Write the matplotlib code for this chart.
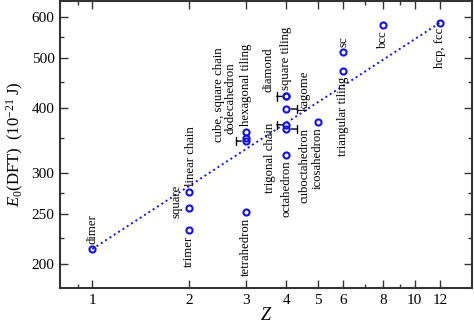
import matplotlib
matplotlib.use("Agg")
import matplotlib.pyplot as plt
import matplotlib.ticker as ticker

plt.rcParams["font.family"] = "Liberation Serif"
plt.rcParams["mathtext.fontset"] = "custom"
plt.rcParams["mathtext.rm"] = "Liberation Serif"
plt.rcParams["mathtext.it"] = "Liberation Serif:italic"

# Coordination number and DFT energy of every structure
names = [
    "dimer", "trimer", "square", "linear chain", "tetrahedron",
    "cube, square chain", "dodecahedron", "hexagonal tiling",
    "octahedron", "trigonal chain", "cuboctahedron", "kagome",
    "diamond", "square tiling", "icosahedron",
    "triangular tiling", "sc", "bcc", "hcp, fcc",
]
z = [1, 2, 2, 2, 3,
     3, 3, 3,
     4, 4, 4, 4,
     4, 4, 5,
     6, 6, 8, 12]
energy = [214, 233, 257, 276, 252,
          346, 351, 361,
          325, 372, 365, 399,
          422, 423, 377,
          472, 513, 580, 586]

# Power-law fit, end points
fit_z = [1, 12]
fit_energy = [214, 586]

x_ticks = [1, 2, 3, 4, 5, 6, 8, 10, 12]
x_minor = [0.9, 7, 9]
y_ticks = [200, 250, 300, 400, 500, 600]
y_minor = [225, 275, 350, 450, 550]

# Label placement: ha, va, dx, dy (points), leader bar dx (points) or None
placement = {
    "dimer": ("center", "bottom", 0, 4, None),
    "trimer": ("center", "top", 0, -4, None),
    "square": ("center", "center", -9, 5, None),
    "linear chain": ("center", "bottom", 1, 4, None),
    "tetrahedron": ("center", "top", 0, -4, None),
    "cube, square chain": ("center", "bottom", -19.5, -0.5, -7),
    "dodecahedron": ("center", "bottom", -11, 2.5, None),
    "hexagonal tiling": ("center", "bottom", 0, 4, None),
    "octahedron": ("center", "top", 0, -4, None),
    "trigonal chain": ("center", "top", -12, 1.5, -7),
    "cuboctahedron": ("center", "top", 13, 1, 7.5),
    "kagome": ("center", "bottom", 13, -1.5, 7.5),
    "diamond": ("center", "bottom", -13, 3, -7),
    "square tiling": ("center", "bottom", 0, 4, None),
    "icosahedron": ("center", "top", 0, -4, None),
    "triangular tiling": ("center", "top", 0, -4, None),
    "sc": ("center", "bottom", 0, 4, None),
    "bcc": ("center", "top", 0, -4, None),
    "hcp, fcc": ("center", "top", 0, -4, None),
}

BLUE = "#1212e6"

fig = plt.figure(figsize=(4.74, 3.23), dpi=100)
ax = fig.add_axes([0.1266, 0.1084, 0.8692, 0.8885])

ax.set_xscale("log")
ax.set_yscale("log")
ax.set_xlim(0.794, 15.06)
ax.set_ylim(180, 645)

# Fit line and data points
ax.plot(fit_z, fit_energy, linestyle=":", color=BLUE, linewidth=1.4, zorder=2)
ax.plot(z, energy, linestyle="none", marker="o", markersize=4.4,
        markerfacecolor="none", markeredgecolor=BLUE, markeredgewidth=1.5, zorder=3)

for name, zi, ei in zip(names, z, energy):
    ha, va, dx, dy, bar = placement[name]
    ax.annotate(name, (zi, ei), xytext=(dx, dy), textcoords="offset points",
                rotation=90, ha=ha, va=va, fontsize=9.2)
    if bar is not None:
        ax.annotate("", (zi, ei), xytext=(bar, 0), textcoords="offset points",
                    arrowprops=dict(arrowstyle="|-|,widthA=0.3,widthB=0",
                                    color="black", linewidth=1.0,
                                    shrinkA=0, shrinkB=3.4))

# Axes, ticks
ax.xaxis.set_major_locator(ticker.FixedLocator(x_ticks))
ax.xaxis.set_minor_locator(ticker.FixedLocator(x_minor))
ax.xaxis.set_major_formatter(ticker.FixedFormatter([str(t) for t in x_ticks]))
ax.xaxis.set_minor_formatter(ticker.NullFormatter())
ax.yaxis.set_major_locator(ticker.FixedLocator(y_ticks))
ax.yaxis.set_minor_locator(ticker.FixedLocator(y_minor))
ax.yaxis.set_major_formatter(ticker.FixedFormatter([str(t) for t in y_ticks]))
ax.yaxis.set_minor_formatter(ticker.NullFormatter())

ax.tick_params(which="both", direction="in", top=True, right=True,
               labelsize=11, color="#333333", pad=4)
ax.tick_params(which="major", length=5.5, width=1.0)
ax.tick_params(which="minor", length=3, width=1.0)
for spine in ax.spines.values():
    spine.set_linewidth(1.5)
    spine.set_color("#333333")

ax.set_xlabel("$Z$", fontsize=13, labelpad=0)
ax.set_ylabel("$E_0$(DFT)  (10$^{-21}$ J)", fontsize=12, labelpad=4)

fig.savefig("out.png", dpi=100)
plt.close(fig)
